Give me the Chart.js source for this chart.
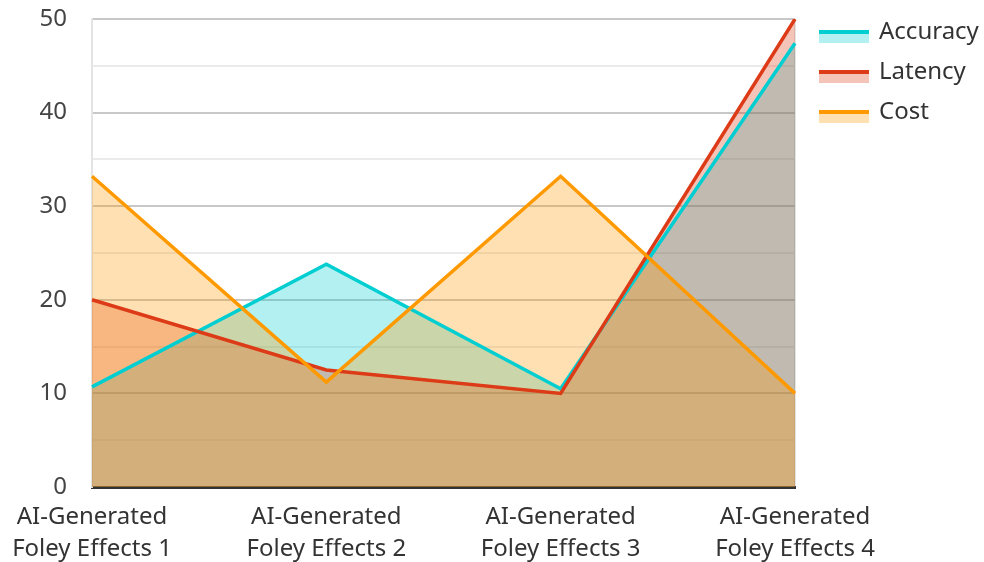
<!DOCTYPE html>
<html>
<head>
<meta charset="utf-8">
<script src="https://cdn.jsdelivr.net/npm/chart.js@4"></script>
<style>
html,body{margin:0;padding:0;background:#fff;}
#wrap{width:984px;height:562px;position:relative;}
</style>
</head>
<body>
<div id="wrap"><canvas id="c" width="984" height="562"></canvas></div>
<script>
const categories = [
  ['AI-Generated', 'Foley Effects 1'],
  ['AI-Generated', 'Foley Effects 2'],
  ['AI-Generated', 'Foley Effects 3'],
  ['AI-Generated', 'Foley Effects 4']
];
const accuracy = [10.7, 23.8, 10.5, 47.4];
const latency = [20, 12.5, 10, 50];
const cost = [33.2, 11.2, 33.2, 10];
const seriesNames = ['Accuracy', 'Latency', 'Cost'];
const yTicks = [0, 10, 20, 30, 40, 50];

const lineColors = ['#00CED1', '#DD3B17', '#FF9900'];
const fillColors = ['rgba(0,206,209,0.3)', 'rgba(221,59,23,0.3)', 'rgba(255,153,0,0.3)'];
const FONT = '"Noto Sans", "Open Sans", sans-serif';

const legendPlugin = {
  id: 'customLegend',
  afterDraw(chart) {
    const ctx = chart.ctx;
    ctx.save();
    const x0 = 819, bw = 50;
    seriesNames.forEach((name, i) => {
      const top = 30 + i * 40;
      ctx.fillStyle = fillColors[i];
      ctx.fillRect(x0, top, bw, 13);
      ctx.fillStyle = lineColors[i];
      ctx.fillRect(x0, top, bw, 4);
      ctx.fillStyle = '#333';
      ctx.font = '24px ' + FONT;
      ctx.textBaseline = 'middle';
      ctx.textAlign = 'left';
      ctx.fillText(name, 879, top + 2);
    });
    ctx.restore();
  }
};

const values = [accuracy, latency, cost];
const orders = [2, 1, 0];
const datasets = values.map((v, i) => ({
  label: seriesNames[i],
  data: v,
  borderColor: lineColors[i],
  backgroundColor: fillColors[i],
  borderWidth: 3.5,
  fill: 'origin',
  tension: 0,
  pointRadius: 0,
  pointHoverRadius: 0,
  order: orders[i]
}));

new Chart(document.getElementById('c'), {
  type: 'line',
  data: { labels: categories, datasets },
  options: {
    responsive: false,
    animation: false,
    layout: { padding: { left: 0, right: 189, top: 19, bottom: 0 } },
    plugins: {
      legend: { display: false },
      tooltip: { enabled: false },
      filler: { drawTime: 'beforeDatasetsDraw' }
    },
    scales: {
      x: {
        offset: false,
        grid: {
          display: true,
          drawTicks: false,
          color: (c) => (c.index === 3 ? '#e4e4e4' : 'rgba(0,0,0,0)'),
          lineWidth: 2
        },
        border: { display: true, color: '#333', width: 3 },
        ticks: {
          color: '#333',
          font: { family: FONT, size: 24, lineHeight: 1.33 },
          padding: 14,
          maxRotation: 0,
          autoSkip: false
        },
        afterFit(scale) {
          scale.height = 75;
          scale.paddingLeft = 0;
          scale.paddingRight = 0;
        }
      },
      y: {
        min: 0,
        max: 50,
        ticks: {
          stepSize: 5,
          color: '#444',
          font: { family: FONT, size: 24 },
          padding: 25,
          callback: (v) => (yTicks.includes(v) ? String(v) : '')
        },
        grid: {
          drawTicks: false,
          color: (c) => (c.tick && c.tick.value % 10 === 0 ? '#c8c8c8' : '#ebebeb'),
          lineWidth: 2
        },
        border: { display: true, color: '#e4e4e4', width: 2 },
        afterFit(scale) {
          scale.width = 92;
          scale.paddingTop = 0;
          scale.paddingBottom = 0;
        }
      }
    }
  },
  plugins: [legendPlugin]
});
</script>
</body>
</html>
